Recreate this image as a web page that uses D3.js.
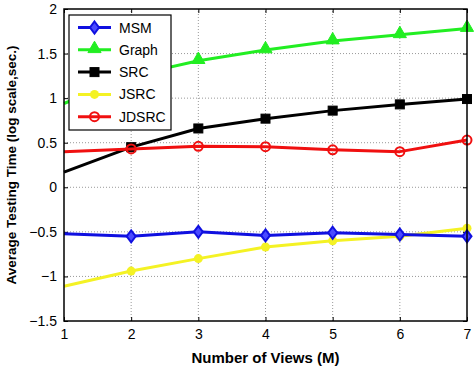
<!DOCTYPE html>
<html><head><meta charset="utf-8">
<script src="https://cdn.jsdelivr.net/npm/d3@7"></script>
<style>body{margin:0;background:#fff}svg{display:block;font-family:"Liberation Sans",Arial,sans-serif}</style>
</head><body><svg id="c" width="474" height="369"></svg>
<script>
const views = [1, 2, 3, 4, 5, 6, 7];
const msm   = [-0.52, -0.55, -0.50, -0.54, -0.51, -0.53, -0.55];
const graph = [0.94, 1.25, 1.42, 1.54, 1.64, 1.71, 1.78];
const src   = [0.17, 0.45, 0.66, 0.77, 0.86, 0.93, 0.99];
const jsrc  = [-1.11, -0.94, -0.80, -0.67, -0.60, -0.55, -0.46];
const jdsrc = [0.40, 0.43, 0.46, 0.455, 0.42, 0.40, 0.53];
const seriesNames = ["MSM", "Graph", "SRC", "JSRC", "JDSRC"];
const yTicks = [-1.5, -1, -0.5, 0, 0.5, 1, 1.5, 2];
const xTicks = [1, 2, 3, 4, 5, 6, 7];

const series = [
  {name: seriesNames[0], vals: msm,   color: "#1010e0", marker: "diamond"},
  {name: seriesNames[1], vals: graph, color: "#22ee22", marker: "triangle"},
  {name: seriesNames[2], vals: src,   color: "#000000", marker: "square"},
  {name: seriesNames[3], vals: jsrc,  color: "#f4f224", marker: "dot"},
  {name: seriesNames[4], vals: jdsrc, color: "#f01010", marker: "ocircle"}
];

const svg = d3.select("#c");
const m = {l: 64, r: 7, t: 9, b: 48};
const W = 474, H = 369;
const x = d3.scaleLinear().domain([1, 7]).range([m.l, W - m.r]);
const y = d3.scaleLinear().domain([-1.5, 2]).range([H - m.b, m.t]);
const fmt = v => String(v).replace("-", "\u2212");

// grid
const g = svg.append("g");
g.selectAll(".gx").data(xTicks.slice(1, -1)).enter().append("line")
  .attr("x1", d => x(d)).attr("x2", d => x(d)).attr("y1", y(-1.5)).attr("y2", y(2))
  .attr("stroke", "#999").attr("stroke-width", 1).attr("stroke-dasharray", "1,2");
g.selectAll(".gy").data(yTicks.slice(1, -1)).enter().append("line")
  .attr("y1", d => y(d)).attr("y2", d => y(d)).attr("x1", x(1)).attr("x2", x(7))
  .attr("stroke", "#999").attr("stroke-width", 1).attr("stroke-dasharray", "1,2");

// axes
const xAxis = d3.axisBottom(x).tickValues(xTicks).tickFormat(fmt).tickSizeInner(-4).tickSizeOuter(0).tickPadding(8);
const yAxis = d3.axisLeft(y).tickValues(yTicks).tickFormat(fmt).tickSizeInner(-4).tickSizeOuter(0).tickPadding(7);
const xa = svg.append("g").attr("transform", `translate(0,${H - m.b})`).call(xAxis);
const ya = svg.append("g").attr("transform", `translate(${m.l},0)`).call(yAxis);
const xt = svg.append("g").attr("transform", `translate(0,${m.t})`).call(d3.axisTop(x).tickValues(xTicks).tickFormat("").tickSizeInner(-4).tickSizeOuter(0));
const yr = svg.append("g").attr("transform", `translate(${W - m.r},0)`).call(d3.axisRight(y).tickValues(yTicks).tickFormat("").tickSizeInner(-4).tickSizeOuter(0));
[xa, ya, xt, yr].forEach(a => {
  a.selectAll("path").remove();
  a.selectAll("line").attr("stroke", "#000");
  a.selectAll("text").attr("font-size", 14).attr("fill", "#000").attr("font-family", "Liberation Sans, Arial, sans-serif");
});

// lines and markers
const line = d3.line().x((d, i) => x(views[i])).y(d => y(d));
function marker(sel, type, color, cx, cy) {
  if (type === "diamond") {
    sel.append("path").attr("d", `M${cx},${cy-6}L${cx+4.5},${cy}L${cx},${cy+6}L${cx-4.5},${cy}Z`)
      .attr("fill", "#4a4aff").attr("stroke", color).attr("stroke-width", 2);
  } else if (type === "triangle") {
    sel.append("path").attr("d", d3.symbol(d3.symbolTriangle, 75)()).attr("transform", `translate(${cx},${cy-1})`)
      .attr("fill", color).attr("stroke", color).attr("stroke-width", 1);
  } else if (type === "square") {
    sel.append("rect").attr("x", cx - 4.5).attr("y", cy - 4.5).attr("width", 9).attr("height", 9)
      .attr("fill", "#000").attr("stroke", "#000");
  } else if (type === "dot") {
    sel.append("circle").attr("cx", cx).attr("cy", cy).attr("r", 4.5).attr("fill", color);
  } else if (type === "ocircle") {
    sel.append("circle").attr("cx", cx).attr("cy", cy).attr("r", 4.5).attr("fill", "none")
      .attr("stroke", color).attr("stroke-width", 2);
  }
}
const drawOrder = [2, 4, 1, 3, 0];
drawOrder.forEach(k => {
  const s = series[k];
  const gg = svg.append("g");
  gg.append("path").datum(s.vals).attr("d", line).attr("fill", "none")
    .attr("stroke", s.color).attr("stroke-width", 3).attr("stroke-linejoin", "round");
  s.vals.forEach((v, i) => { if (i > 0) marker(gg, s.marker, s.color, x(views[i]), y(v)); });
});

// frame
svg.append("rect").attr("x", m.l).attr("y", m.t).attr("width", W - m.l - m.r).attr("height", H - m.t - m.b)
  .attr("fill", "none").attr("stroke", "#000").attr("stroke-width", 1.5);

// legend
const lg = svg.append("g");
lg.append("rect").attr("x", 69).attr("y", 15).attr("width", 102).attr("height", 115)
  .attr("fill", "#fff").attr("stroke", "#000").attr("stroke-width", 1.2);
series.forEach((s, i) => {
  const ly = 27.5 + i * 22.3;
  lg.append("line").attr("x1", 78).attr("x2", 111).attr("y1", ly).attr("y2", ly)
    .attr("stroke", s.color).attr("stroke-width", 3);
  marker(lg, s.marker, s.color, 94.5, ly);
  lg.append("text").attr("x", 119).attr("y", ly).attr("dy", "0.36em")
    .attr("font-size", 14).text(s.name);
});

// titles
svg.append("text").attr("x", x(4)).attr("y", 363).attr("text-anchor", "middle")
  .attr("font-size", 15).attr("font-weight", "bold").text("Number of Views (M)");
svg.append("text").attr("transform", `translate(16,${y(0.25)}) rotate(-90)`).attr("text-anchor", "middle")
  .attr("font-size", 13.5).attr("font-weight", "bold").text("Average Testing Time (log scale,sec.)");
</script></body></html>
